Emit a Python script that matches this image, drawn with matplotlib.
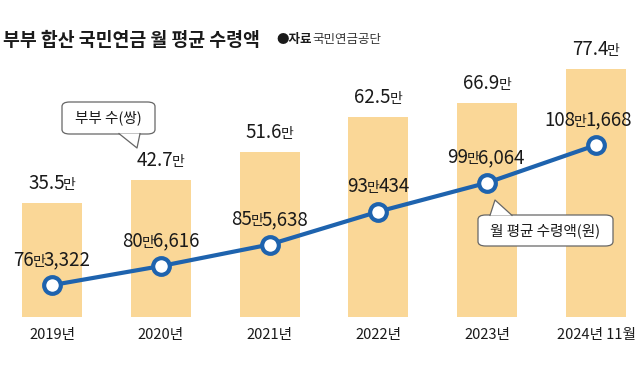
import matplotlib
matplotlib.use("Agg")
import matplotlib.pyplot as plt
from matplotlib.offsetbox import TextArea, HPacker, AnnotationBbox
from matplotlib.patches import FancyBboxPatch, Polygon
from matplotlib.lines import Line2D

plt.rcParams['font.family'] = ['Noto Sans CJK KR', 'DejaVu Sans']

years = ["2019년", "2020년", "2021년", "2022년", "2023년", "2024년 11월"]
couples = [35.5, 42.7, 51.6, 62.5, 66.9, 77.4]          # 만 쌍
amount = [763322, 806616, 855638, 930434, 996064, 1081668]  # 원
amount_lbl = [("76", "3,322"), ("80", "6,616"), ("85", "5,638"),
              ("93", "434"), ("99", "6,064"), ("108", "1,668")]

BAR = "#FAD797"
BLUE = "#1E63AE"
TXT = "#1a1a1a"

fig = plt.figure(figsize=(6.4, 3.73), dpi=100)
W, H = 640, 373
def fx(px): return px / W
def fy(py): return 1 - py / H

ax = fig.add_axes([0, fy(317), 1, fy(60) - fy(317)])
ax2 = ax.twinx()
ax.set_position([0, fy(317), 1, fy(60) - fy(317)])
ax2.set_position([0, fy(317), 1, fy(60) - fy(317)])

x = list(range(len(years)))
ax.bar(x, couples, width=0.55, color=BAR, zorder=1)
ax.set_xlim(-52 / 108.8, (640 - 52) / 108.8)
ax.set_ylim(0, 257 / 3.205)
ax2.set_ylim(690900, 1275000)
ax2.plot(x, amount, color=BLUE, lw=3, zorder=3, solid_capstyle='round')
ax2.plot(x, amount, 'o', ms=12, mfc='white', mec=BLUE, mew=3, zorder=4)

for a in (ax, ax2):
    a.axis('off')

# bar value labels
for i, v in enumerate(couples):
    p = HPacker(children=[
        TextArea(f"{v}", textprops=dict(fontsize=13.5, color=TXT)),
        TextArea("만", textprops=dict(fontsize=10, color=TXT))],
        sep=-1, align="baseline", pad=0)
    ab = AnnotationBbox(p, (i, v), xybox=(0, 14), xycoords='data',
                        boxcoords="offset points", frameon=False,
                        box_alignment=(0.5, 0.5), annotation_clip=False)
    ax.add_artist(ab)

# line value labels
shifts = [0, 0, 0, 0, -1, -6]
for i, (v, (a, b)) in enumerate(zip(amount, amount_lbl)):
    p = HPacker(children=[
        TextArea(a, textprops=dict(fontsize=13.5, color=TXT)),
        TextArea("만", textprops=dict(fontsize=10, color=TXT)),
        TextArea(b, textprops=dict(fontsize=13.5, color=TXT))],
        sep=-1, align="baseline", pad=0)
    ab = AnnotationBbox(p, (i, v), xybox=(shifts[i], 18), xycoords='data',
                        boxcoords="offset points", frameon=False,
                        box_alignment=(0.5, 0.5), annotation_clip=False)
    ax2.add_artist(ab)

# year labels
for i, y in enumerate(years):
    ax.text(i, -18 / 3.205, y, ha='center', va='center', fontsize=10.5,
            color=TXT)

# title and source
fig.text(fx(3), fy(40), "부부 합산 국민연금 월 평균 수령액", fontsize=13.2,
         fontweight='bold', color=TXT, ha='left', va='center')
fig.text(fx(276), fy(40), "●자료", fontsize=9, fontweight='bold',
         color=TXT, ha='left', va='center')
fig.text(fx(312), fy(40), "국민연금공단", fontsize=9, color="#333333",
         ha='left', va='center')

# callouts
def callout(box, tail, text):
    x0, y0, x1, y1 = box
    patch = FancyBboxPatch((fx(x0), fy(y1)), fx(x1 - x0), fy(y0) - fy(y1),
                           boxstyle="round,pad=0,rounding_size=0.012",
                           transform=fig.transFigure, fc='white',
                           ec='#666666', lw=0.9, zorder=5)
    fig.add_artist(patch)
    pts = [(fx(px), fy(py)) for px, py in tail]
    fig.add_artist(Polygon(pts, closed=True, transform=fig.transFigure,
                           fc='white', ec='none', zorder=6))
    fig.add_artist(Line2D([p[0] for p in pts], [p[1] for p in pts],
                          transform=fig.transFigure, color='#666666',
                          lw=0.9, zorder=7))
    fig.text(fx((x0 + x1) / 2), fy((y0 + y1) / 2), text, ha='center',
             va='center', fontsize=10.5, color=TXT, zorder=8)

callout((62, 102, 155, 134), [(119, 133.6), (137, 148), (140, 133.6)],
        "부부 수(쌍)")
callout((478, 215, 613, 246), [(490, 215.4), (495, 200), (512, 215.4)],
        "월 평균 수령액(원)")

fig.savefig("out.png", dpi=100)
